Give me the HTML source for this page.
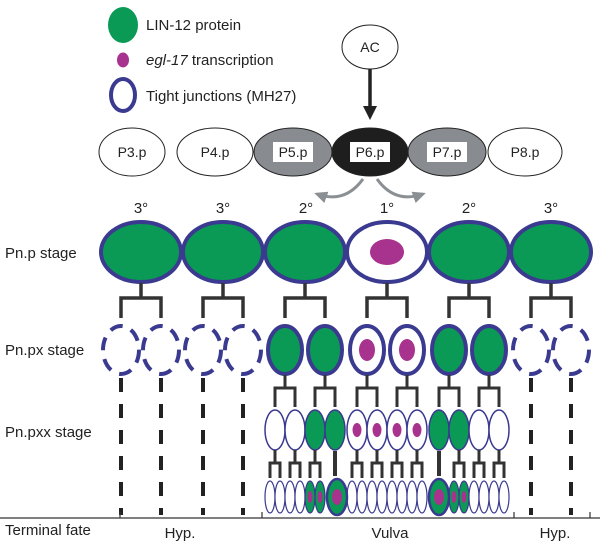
<!DOCTYPE html>
<html><head><meta charset="utf-8"><style>
body{margin:0;background:#fff}
svg{display:block;font-family:"Liberation Sans",Arial,sans-serif}
</style></head><body>
<svg width="600" height="547" viewBox="0 0 600 547" xmlns="http://www.w3.org/2000/svg">
<defs>
<marker id="ga" markerWidth="14" markerHeight="12" refX="10" refY="6" orient="auto" markerUnits="userSpaceOnUse"><path d="M0,0 L13,6 L0,12 Z" fill="#8a8f93"/></marker>
</defs>
<!-- legend -->
<ellipse cx="123" cy="25" rx="15" ry="18" fill="#0b9a55"/>
<text x="146" y="30" font-size="15" fill="#222">LIN-12 protein</text>
<ellipse cx="123" cy="60" rx="6" ry="7.5" fill="#a8338e"/>
<text x="146" y="65" font-size="15" fill="#222"><tspan font-style="italic">egl-17</tspan> transcription</text>
<ellipse cx="123" cy="95" rx="12" ry="16" fill="none" stroke="#3a3a90" stroke-width="4"/>
<text x="146" y="101" font-size="15" fill="#222">Tight junctions (MH27)</text>
<!-- AC -->
<ellipse cx="370" cy="47" rx="28" ry="22" fill="#fff" stroke="#222" stroke-width="1"/>
<text x="370" y="52" font-size="14" text-anchor="middle" fill="#222">AC</text>
<line x1="370" y1="69" x2="370" y2="108" stroke="#222" stroke-width="3.5"/>
<path d="M363,106 L377,106 L370,120 Z" fill="#222"/>
<!-- P row -->
<g stroke="#222" stroke-width="1">
<ellipse cx="132" cy="152" rx="33" ry="24" fill="#fff"/>
<ellipse cx="215" cy="152" rx="38" ry="24" fill="#fff"/>
<ellipse cx="293" cy="152" rx="39" ry="24" fill="#888c90"/>
<ellipse cx="370" cy="152" rx="38" ry="24" fill="#1e1e1e"/>
<ellipse cx="447" cy="152" rx="39" ry="24" fill="#888c90"/>
<ellipse cx="525" cy="152" rx="37" ry="24" fill="#fff"/>
</g>
<rect x="273" y="142" width="40" height="20" fill="#fff"/>
<rect x="350" y="142" width="40" height="20" fill="#fff"/>
<rect x="427" y="142" width="40" height="20" fill="#fff"/>
<g font-size="14" text-anchor="middle" fill="#222">
<text x="132" y="157">P3.p</text><text x="215" y="157">P4.p</text><text x="293" y="157">P5.p</text>
<text x="370" y="157">P6.p</text><text x="447" y="157">P7.p</text><text x="525" y="157">P8.p</text>
</g>
<path d="M363,179 Q345,204 317,194" fill="none" stroke="#8a8f93" stroke-width="3" marker-end="url(#ga)"/>
<path d="M377,179 Q395,204 423,194" fill="none" stroke="#8a8f93" stroke-width="3" marker-end="url(#ga)"/>
<!-- degrees -->
<g font-size="15" text-anchor="middle" fill="#222">
<text x="141" y="213">3°</text><text x="223" y="213">3°</text><text x="306" y="213">2°</text>
<text x="387" y="213">1°</text><text x="469" y="213">2°</text><text x="551" y="213">3°</text>
</g>
<!-- labels -->
<g font-size="15" fill="#222">
<text x="5" y="258">Pn.p stage</text>
<text x="5" y="355">Pn.px stage</text>
<text x="5" y="437">Pn.pxx stage</text>
<text x="5" y="535">Terminal fate</text>
<text x="180" y="538" text-anchor="middle">Hyp.</text>
<text x="390" y="538" text-anchor="middle">Vulva</text>
<text x="555" y="538" text-anchor="middle">Hyp.</text>
</g>
<!-- Pn.p -->
<g stroke="#3a3a90" stroke-width="4">
<ellipse cx="141" cy="252" rx="40" ry="30" fill="#0b9a55"/>
<ellipse cx="223" cy="252" rx="40" ry="30" fill="#0b9a55"/>
<ellipse cx="305" cy="252" rx="40" ry="30" fill="#0b9a55"/>
<ellipse cx="387" cy="252" rx="40" ry="30" fill="#fff"/>
<ellipse cx="469" cy="252" rx="40" ry="30" fill="#0b9a55"/>
<ellipse cx="551" cy="252" rx="40" ry="30" fill="#0b9a55"/>
</g>
<ellipse cx="387" cy="252" rx="17" ry="13" fill="#a8338e"/>
<!-- connectors Pn.p -> px -->
<g stroke="#333" stroke-width="3.5" fill="none">
<path d="M141,283 V298 M121,318 V298 H161 V318"/>
<path d="M223,283 V298 M203,318 V298 H243 V318"/>
<path d="M305,283 V298 M285,318 V298 H325 V318"/>
<path d="M387,283 V298 M367,318 V298 H407 V318"/>
<path d="M469,283 V298 M449,318 V298 H489 V318"/>
<path d="M551,283 V298 M531,318 V298 H571 V318"/>
</g>
<!-- px -->
<g stroke="#3a3a90" stroke-width="4" fill="none" stroke-dasharray="13 9">
<ellipse cx="121" cy="350" rx="18" ry="24"/><ellipse cx="161" cy="350" rx="18" ry="24"/>
<ellipse cx="203" cy="350" rx="18" ry="24"/><ellipse cx="243" cy="350" rx="18" ry="24"/>
<ellipse cx="531" cy="350" rx="18" ry="24"/><ellipse cx="571" cy="350" rx="18" ry="24"/>
</g>
<g stroke="#3a3a90" stroke-width="4">
<ellipse cx="285" cy="350" rx="17" ry="24" fill="#0b9a55"/><ellipse cx="325" cy="350" rx="17" ry="24" fill="#0b9a55"/>
<ellipse cx="367" cy="350" rx="17" ry="24" fill="#fff"/><ellipse cx="407" cy="350" rx="17" ry="24" fill="#fff"/>
<ellipse cx="449" cy="350" rx="17" ry="24" fill="#0b9a55"/><ellipse cx="489" cy="350" rx="17" ry="24" fill="#0b9a55"/>
</g>
<ellipse cx="367" cy="350" rx="8" ry="11" fill="#a8338e"/><ellipse cx="407" cy="350" rx="8" ry="11" fill="#a8338e"/>
<!-- dashed lines 3° -->
<g stroke="#222" stroke-width="4" stroke-dasharray="14 12">
<line x1="121" y1="378" x2="121" y2="515"/><line x1="161" y1="378" x2="161" y2="515"/>
<line x1="203" y1="378" x2="203" y2="515"/><line x1="243" y1="378" x2="243" y2="515"/>
<line x1="531" y1="378" x2="531" y2="515"/><line x1="571" y1="378" x2="571" y2="515"/>
</g>
<!-- px -> pxx connectors -->
<g stroke="#333" stroke-width="3" fill="none">
<path d="M285,375 V388 M275,407 V388 H295 V407"/>
<path d="M325,375 V388 M315,407 V388 H335 V407"/>
<path d="M367,375 V388 M357,407 V388 H377 V407"/>
<path d="M407,375 V388 M397,407 V388 H417 V407"/>
<path d="M449,375 V388 M439,407 V388 H459 V407"/>
<path d="M489,375 V388 M479,407 V388 H499 V407"/>
</g>
<!-- pxx -->
<g stroke="#3a3a90" stroke-width="1.5">
<ellipse cx="275" cy="430" rx="10" ry="20" fill="#fff"/>
<ellipse cx="295" cy="430" rx="10" ry="20" fill="#fff"/>
<ellipse cx="315" cy="430" rx="10" ry="20" fill="#0b9a55"/>
<ellipse cx="335" cy="430" rx="10" ry="20" fill="#0b9a55"/>
<ellipse cx="357" cy="430" rx="10" ry="20" fill="#fff"/>
<ellipse cx="377" cy="430" rx="10" ry="20" fill="#fff"/>
<ellipse cx="397" cy="430" rx="10" ry="20" fill="#fff"/>
<ellipse cx="417" cy="430" rx="10" ry="20" fill="#fff"/>
<ellipse cx="439" cy="430" rx="10" ry="20" fill="#0b9a55"/>
<ellipse cx="459" cy="430" rx="10" ry="20" fill="#0b9a55"/>
<ellipse cx="479" cy="430" rx="10" ry="20" fill="#fff"/>
<ellipse cx="499" cy="430" rx="10" ry="20" fill="#fff"/>
</g>
<g fill="#a8338e">
<ellipse cx="357" cy="430" rx="4.5" ry="7"/><ellipse cx="377" cy="430" rx="4.5" ry="7"/>
<ellipse cx="397" cy="430" rx="4.5" ry="7"/><ellipse cx="417" cy="430" rx="4.5" ry="7"/>
</g>
<!-- pxx -> terminal connectors -->
<g stroke="#333" stroke-width="3" fill="none">
<path d="M275,450 V463 M270,478 V463 H280 V478"/>
<path d="M295,450 V463 M290,478 V463 H300 V478"/>
<path d="M315,450 V463 M310,478 V463 H320 V478"/>
<path d="M335,451 V476" stroke-width="4"/>
<path d="M357,450 V463 M352,478 V463 H362 V478"/>
<path d="M377,450 V463 M372,478 V463 H382 V478"/>
<path d="M397,450 V463 M392,478 V463 H402 V478"/>
<path d="M417,450 V463 M412,478 V463 H422 V478"/>
<path d="M439,451 V476" stroke-width="4"/>
<path d="M459,450 V463 M454,478 V463 H464 V478"/>
<path d="M479,450 V463 M474,478 V463 H484 V478"/>
<path d="M499,450 V463 M494,478 V463 H504 V478"/>
</g>
<!-- terminal cells -->
<g stroke="#3a3a90" stroke-width="1.2" fill="#fff">
<ellipse cx="270" cy="497" rx="5" ry="16"/><ellipse cx="280" cy="497" rx="5" ry="16"/>
<ellipse cx="290" cy="497" rx="5" ry="16"/><ellipse cx="300" cy="497" rx="5" ry="16"/>
<ellipse cx="310" cy="497" rx="5" ry="16" fill="#0b9a55"/><ellipse cx="320" cy="497" rx="5" ry="16" fill="#0b9a55"/>
<ellipse cx="352" cy="497" rx="5" ry="16"/><ellipse cx="362" cy="497" rx="5" ry="16"/>
<ellipse cx="372" cy="497" rx="5" ry="16"/><ellipse cx="382" cy="497" rx="5" ry="16"/>
<ellipse cx="392" cy="497" rx="5" ry="16"/><ellipse cx="402" cy="497" rx="5" ry="16"/>
<ellipse cx="412" cy="497" rx="5" ry="16"/><ellipse cx="422" cy="497" rx="5" ry="16"/>
<ellipse cx="454" cy="497" rx="5" ry="16" fill="#0b9a55"/><ellipse cx="464" cy="497" rx="5" ry="16" fill="#0b9a55"/>
<ellipse cx="474" cy="497" rx="5" ry="16"/><ellipse cx="484" cy="497" rx="5" ry="16"/>
<ellipse cx="494" cy="497" rx="5" ry="16"/><ellipse cx="504" cy="497" rx="5" ry="16"/>
</g>
<g stroke="#3a3a90" stroke-width="2.5" fill="#0b9a55">
<ellipse cx="337" cy="497" rx="10" ry="18"/><ellipse cx="439" cy="497" rx="10" ry="18"/>
</g>
<g fill="#a8338e">
<ellipse cx="310" cy="497" rx="2.5" ry="6"/><ellipse cx="320" cy="497" rx="2.5" ry="6"/>
<ellipse cx="337" cy="497" rx="5" ry="8"/><ellipse cx="439" cy="497" rx="5" ry="8"/>
<ellipse cx="454" cy="497" rx="2.5" ry="6"/><ellipse cx="464" cy="497" rx="2.5" ry="6"/>
</g>
<!-- terminal fate line -->
<g stroke="#333" stroke-width="1.2" fill="none">
<path d="M0,518 H600"/>
<path d="M120,518 V512 M262,518 V512 M514,518 V512 M590,518 V512"/>
</g>
</svg>
</body></html>
